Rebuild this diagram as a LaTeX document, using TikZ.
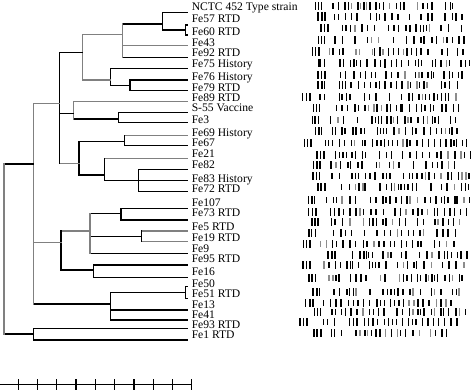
\documentclass[tikz,border=0pt]{standalone}
\usepackage{fontspec}
\setmainfont{Liberation Serif}
\newcommand\tedge[3]{\draw[#1] (#2 |- #3) -- (#3);}
\newcommand\tvert[4]{\draw[#1] (#2 |- #3) -- (#2 |- #4);}
\begin{document}
\begin{tikzpicture}[x=0.75pt,y=-0.75pt,
  bl/.style={black, line width=0.95pt, line cap=rect},
  gl/.style={black!50, line width=0.8pt, line cap=rect},
  lab/.style={anchor=base west, inner sep=0pt, font=\fontsize{8.7}{9}\selectfont}]
\useasboundingbox (0,0) rectangle (474,391);
% leaves
\foreach \yy [count=\i] in {12.7, 25, 35, 45.7, 57.3, 68.3, 80, 90.7, 101.7, 112.7, 122.3,
  135.7, 145.7, 158.3, 169.3, 180.7, 191.7, 208.3, 220, 231, 241.7, 253.3, 265, 277.7,
  286.7, 298.3, 310, 320, 328.3, 340}{
  \coordinate (l\i) at (187,\yy);
}
% labels
\foreach \yy/\tx [count=\i] in {11/NCTC 452 Type strain, 23/Fe57 RTD, 36/Fe60 RTD, 47/Fe43,
  57/Fe92 RTD, 68/Fe75 History, 81/Fe76 History, 92/Fe79 RTD, 102/Fe89 RTD,
  112/S-55 Vaccine, 124/Fe3, 137/Fe69 History, 147/Fe67, 158/Fe21, 169/Fe82,
  183/Fe83 History, 193/Fe72 RTD, 207/Fe107, 217/Fe73 RTD, 231/Fe5 RTD, 242/Fe19 RTD,
  253/Fe9, 263/Fe95 RTD, 276/Fe16, 287/Fe50, 297.5/Fe51 RTD, 308/Fe13, 318/Fe41,
  328/Fe93 RTD, 338/Fe1 RTD}{
  \node[lab] (t\i) at (191.5,\yy) {\tx};
}
% internal nodes
\coordinate (B) at (185.7,30);
\coordinate (A) at (162.3,24);
\coordinate (C) at (122.3,34.3);
\coordinate (E) at (130,85.7);
\coordinate (D) at (110.7,80);
\coordinate (F) at (82.3,52.3);
\coordinate (G) at (118.3,119);
\coordinate (H) at (73.3,113.3);
\coordinate (I) at (124.3,141.7);
\coordinate (J) at (138.3,180.7);
\coordinate (K) at (104.3,175);
\coordinate (L) at (79,163.3);
\coordinate (M) at (59.3,103.3);
\coordinate (O) at (121,213.3);
\coordinate (P) at (141.7,236.7);
\coordinate (Q) at (90,231);
\coordinate (R) at (93.3,270);
\coordinate (S) at (61,242.3);
\coordinate (T) at (185.7,292.7);
\coordinate (U) at (110.7,304);
\coordinate (N) at (33.3,164);
\coordinate (V) at (33.3,334);
\coordinate (W) at (4,249);
% B
\tedge{bl}{B}{l2} \tedge{bl}{B}{l3} \tvert{bl}{B}{l2}{l3}
% A
\tedge{bl}{A}{l1} \tedge{bl}{A}{B} \tvert{bl}{A}{l1}{B}
% C
\tedge{bl}{C}{A} \tedge{gl}{C}{l4} \tedge{bl}{C}{l5} \tvert{gl}{C}{A}{l5}
% E, D
\tedge{bl}{E}{l7} \tedge{bl}{E}{l8} \tvert{bl}{E}{l7}{l8}
\tedge{bl}{D}{l6} \tedge{bl}{D}{E} \tvert{bl}{D}{l6}{E}
% F
\tedge{gl}{F}{C} \tedge{gl}{F}{D} \tvert{gl}{F}{C}{D}
% G, H
\tedge{bl}{G}{l10} \tedge{bl}{G}{l11} \tvert{bl}{G}{l10}{l11}
\tedge{gl}{H}{l9} \tedge{bl}{H}{G} \tvert{gl}{H}{l9}{G}
% I, J, K, L
\tedge{gl}{I}{l12} \tedge{bl}{I}{l13} \tvert{bl}{I}{l12}{l13}
\tedge{bl}{J}{l15} \tedge{bl}{J}{l16} \tedge{bl}{J}{l17} \tvert{bl}{J}{l15}{l17}
\tedge{gl}{K}{l14} \tedge{bl}{K}{J} \tvert{bl}{K}{l14}{J}
\tedge{bl}{L}{I} \tedge{bl}{L}{K} \tvert{bl}{L}{I}{K}
% M
\tedge{bl}{M}{F} \tedge{bl}{M}{H} \tedge{gl}{M}{L} \tvert{bl}{M}{F}{L}
% O, P, Q, R, S
\tedge{bl}{O}{l18} \tedge{bl}{O}{l19} \tvert{bl}{O}{l18}{l19}
\tedge{gl}{P}{l20} \tedge{gl}{P}{l21} \tvert{bl}{P}{l20}{l21}
\tedge{bl}{Q}{O} \tedge{bl}{Q}{P} \tedge{bl}{Q}{l22} \tvert{gl}{Q}{O}{l22}
\tedge{bl}{R}{l23} \tedge{bl}{R}{l24} \tvert{bl}{R}{l23}{l24}
\tedge{gl}{S}{Q} \tedge{bl}{S}{R} \tvert{bl}{S}{Q}{R}
% T, U
\tedge{bl}{T}{l25} \tedge{bl}{T}{l26} \tvert{bl}{T}{l25}{l26}
\tedge{bl}{U}{T} \tedge{bl}{U}{l27} \tedge{bl}{U}{l28} \tvert{bl}{U}{T}{l28}
% N, V, W
\tedge{gl}{N}{M} \tedge{gl}{N}{S} \tedge{bl}{N}{U} \tvert{gl}{N}{M}{U}
\tedge{bl}{V}{l29} \tedge{bl}{V}{l30} \tvert{bl}{V}{l29}{l30}
\tedge{bl}{W}{N} \tedge{bl}{W}{V} \tvert{gl}{W}{N}{V}
% scale bar
\coordinate (s0) at (0,384.3);
\coordinate (s1) at (191.7,384.3);
\draw[bl] (s0) -- (s1);
\foreach \k in {0,...,9}{
  \draw[bl, line cap=butt] ({18.3+\k*19.27},379.3) -- ({18.3+\k*19.27},390);
}
% fingerprint bands
\pgfmathsetseed{11}
\foreach \ry/\xa/\xb in {6/314/458, 16.7/317/465, 28.3/320/463, 40/317/465, 51.7/311/462,
  63.3/317/473, 75/317/468, 85/317/467, 97/302/458, 108/312/460, 120/311/458, 131/314/458,
  143/303/468, 155/316/473, 165/312/457, 176/312/470, 187/317/470, 200/307/470, 212/308/468,
  222/310/462, 233/308/457, 244/302/457, 255/327/467, 265/302/467, 278/308/462, 292/312/462,
  303/305/452, 312/313/465, 322/299/460, 333/313/448}{
  \foreach \j in {0,1,2}{
    \pgfmathsetmacro\bw{0.9+1.1*rnd}
    \pgfmathsetmacro\bx{\xa+\j*3.3+0.8*rnd}
    \fill (\bx,\ry-4.2) rectangle (\bx+\bw,\ry+4.2);
  }
  \pgfmathsetmacro\tmp{\xa+17+rnd*8}
  \xdef\curx{\tmp}
  \foreach \k in {0,...,45}{
    \pgfmathsetmacro\bx{\curx}
    \ifdim\bx pt<\xb pt
      \pgfmathsetmacro\bw{0.8+1.2*rnd}
      \pgfmathsetmacro\bh{2.8+1.5*rnd}
      \pgfmathsetmacro\bc{rnd<0.15?45:100}
      \fill[black!\bc] (\bx,\ry-\bh) rectangle (\bx+\bw,\ry+\bh);
      \pgfmathsetmacro\nx{\bx+2.5+5.2*rnd+(rnd<0.12?7:0)}
      \xdef\curx{\nx}
    \fi
  }
}
\end{tikzpicture}
\end{document}
